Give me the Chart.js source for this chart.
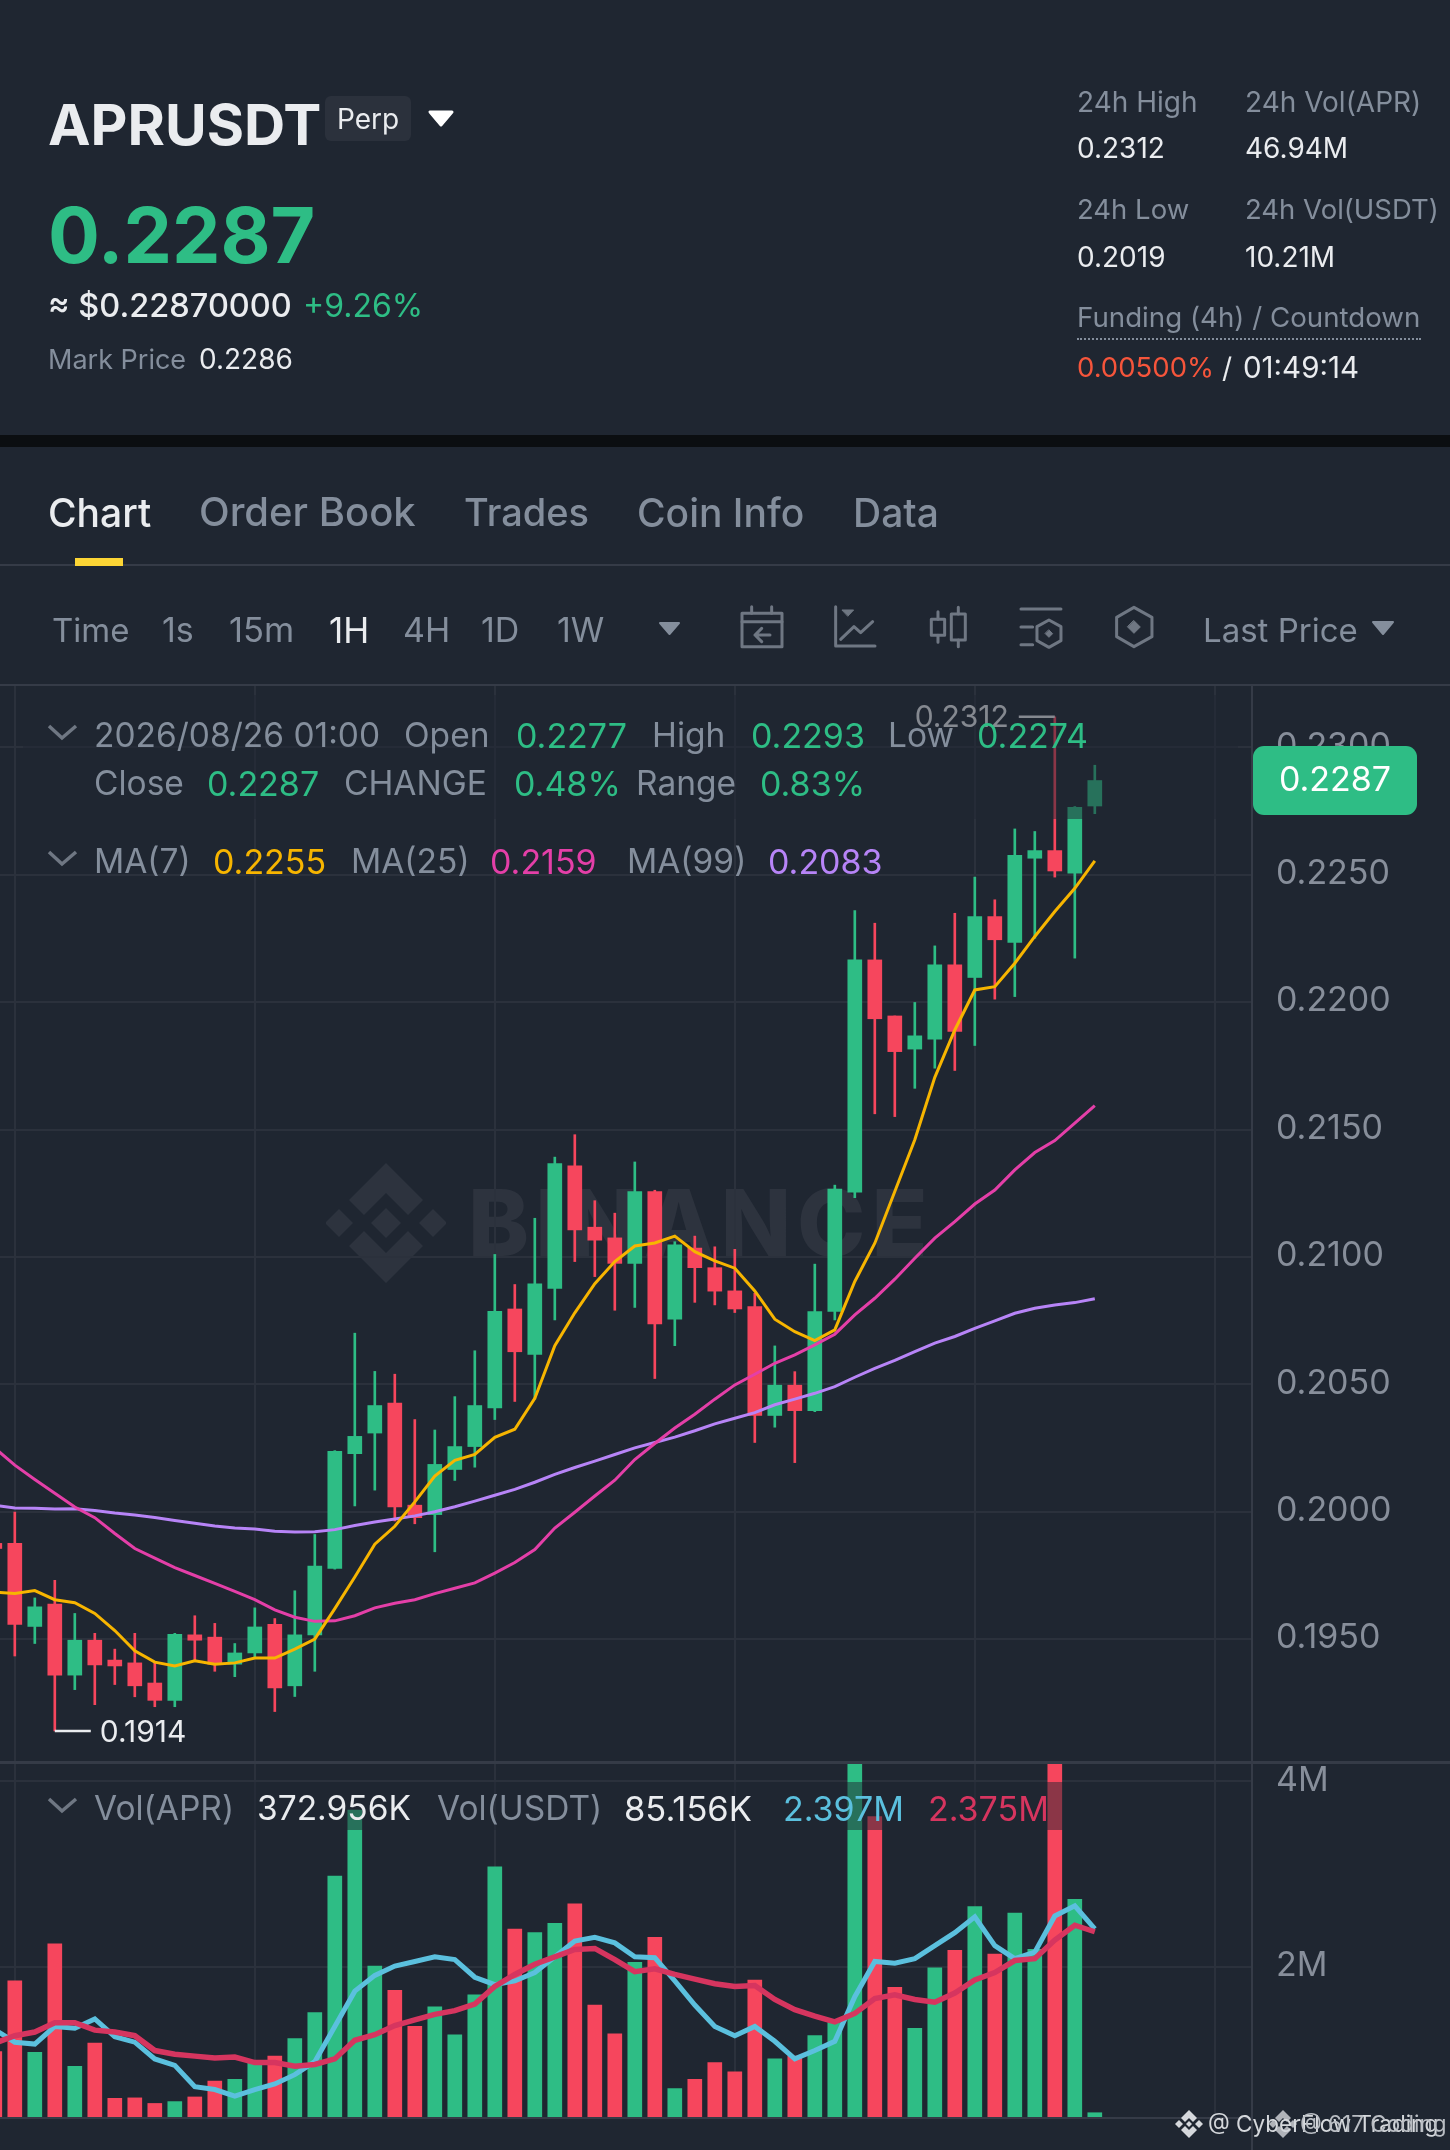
<!DOCTYPE html>
<html>
<head>
<meta charset="utf-8">
<title>APRUSDT</title>
<script src="https://cdn.jsdelivr.net/npm/chart.js@4"></script>
<style>
  html, body { margin: 0; padding: 0; }
  body { width: 1450px; height: 2150px; position: relative; overflow: hidden; background: #1f2631; font-family: Inter, sans-serif; }
  canvas { position: absolute; left: 0; }
  .t { position: absolute; white-space: nowrap; transform: translateY(-50%); line-height: 1; }
  .box { position: absolute; }
  #chrome { position: absolute; left: 0; top: 0; }
</style>
</head>
<body>

<!-- header / toolbar boxes -->
<div class="box" style="left:0;top:435px;width:1450px;height:12px;background:#0b0e11"></div>
<div class="box" style="left:325px;top:96px;width:86px;height:45px;background:#2b313c;border-radius:6px"></div>
<div class="box" style="left:0;top:564px;width:1450px;height:2px;background:#353b47"></div>
<div class="box" style="left:75px;top:558px;width:48px;height:8px;background:#fcd535"></div>
<div class="box" style="left:1077px;top:338px;width:344px;border-top:2px dotted #848e9c"></div>

<!-- watermark sits behind the charts -->
<svg class="box" style="left:326px;top:1163px" width="120" height="120" viewBox="-60 -60 120 120" fill="#2d333e">
  <polygon points="0,-60 37,-23 22,-8 0,-30 -22,-8 -37,-23"/>
  <polygon points="0,60 37,23 22,8 0,30 -22,8 -37,23"/>
  <polygon points="-47,-14 -33,0 -47,14 -61,0"/>
  <polygon points="47,-14 61,0 47,14 33,0"/>
  <polygon points="0,-15 15,0 0,15 -15,0"/>
</svg>
<div class="t" style="left:468px;top:1223px;font-size:92px;font-weight:800;letter-spacing:6px;color:#2d333e">BINANCE</div>

<canvas id="priceChart" width="1450" height="1076" style="top:686px;width:1450px;height:1076px"></canvas>
<canvas id="volChart" width="1450" height="355" style="top:1762px;width:1450px;height:355px"></canvas>

<!-- pane borders -->
<div class="box" style="left:0;top:684px;width:1450px;height:2px;background:#353b47"></div>
<div class="box" style="left:0;top:1761px;width:1450px;height:3px;background:#353b47"></div>
<div class="box" style="left:0;top:2117px;width:1252px;height:2px;background:#353b47"></div>
<div class="box" style="left:1251px;top:686px;width:2px;height:1464px;background:#353b47"></div>

<!-- legend backdrops dim whatever is under them -->
<div class="box" style="left:23px;top:695px;width:1215px;height:124px;background:rgba(31,38,49,.5)"></div>
<div class="box" style="left:23px;top:1782px;width:1047px;height:48px;background:rgba(31,38,49,.5)"></div>

<svg id="chrome" width="1450" height="2150" viewBox="0 0 1450 2150">
  <g fill="#fff" stroke="#fff" stroke-width="3" stroke-linejoin="round"><polygon points="430,112 452,112 441,125"/></g>
  <g fill="#848e9c" stroke="#848e9c" stroke-width="2" stroke-linejoin="round">
    <polygon points="660,623 679,623 669.500,634"/>
    <polygon points="1373,622 1393,622 1383,634"/>
  </g>
  <g fill="none" stroke="#6f7783" stroke-width="3.500">
    <polyline points="49,726 62,738 76,726"/>
    <polyline points="49,852 62,864 76,852"/>
    <polyline points="49,1799 62,1811 76,1799"/>
  </g>
  <!-- toolbar icons -->
  <g transform="translate(730,590) scale(.3333)" fill="none" stroke="#6f7783" stroke-width="9" stroke-linejoin="round" stroke-linecap="round">
    <rect x="36" y="70" width="120" height="100"/>
    <path d="M36 95H156M65 50V70M125 50V70M120 135H75M95 115L75 135L95 155"/>
    <path d="M317 50V168H435M332 148L372 110L392 128L428 95"/>
    <polygon points="337,60 371,60 354,78" fill="#6f7783" stroke-width="3"/>
    <rect x="604" y="88" width="40" height="48"/>
    <rect x="664" y="72" width="42" height="78"/>
    <path d="M624 65V88M624 136V157M685 52V72M685 150V170"/>
    <path d="M873 57H993M873 111H908M873 164H908"/>
    <polygon points="957,90 993,110 993,152 957,172 921,152 921,110"/>
    <polygon points="957,120 968,131 957,142 946,131" fill="#6f7783" stroke-width="3"/>
    <polygon points="1212,52 1266,82 1266,140 1212,170 1160,140 1160,82"/>
    <polygon points="1212,92 1231,111 1212,130 1193,111" fill="#6f7783" stroke-width="3"/>
  </g>
  <!-- footer marks -->
  <g fill="#d5d8dc">
    <polygon points="1189,2110 1197,2118 1193,2122 1189,2118 1185,2122 1181,2118"/>
    <polygon points="1189,2138 1197,2130 1193,2126 1189,2130 1185,2126 1181,2130"/>
    <polygon points="1175,2124 1179,2120 1183,2124 1179,2128"/>
    <polygon points="1203,2124 1199,2120 1195,2124 1199,2128"/>
    <polygon points="1189,2121 1192,2124 1189,2127 1186,2124"/>
  </g>
  <g fill="#d5d8dc" opacity=".8">
    <polygon points="1283,2110 1291,2118 1287,2122 1283,2118 1279,2122 1275,2118"/>
    <polygon points="1283,2138 1291,2130 1287,2126 1283,2130 1279,2126 1275,2130"/>
    <polygon points="1269,2124 1273,2120 1277,2124 1273,2128"/>
    <polygon points="1297,2124 1293,2120 1289,2124 1293,2128"/>
  </g>
</svg>

<script>
// Candles, oldest first. The first one is cut off by the left edge.
const firstCandle = -1;
const opens = [0.19876,0.19876,0.19550,0.19638,0.19359,0.19496,0.19418,0.19407,0.19328,0.19260,0.19517,0.19508,0.19402,0.19446,0.19558,0.19317,0.19517,0.19778,0.20228,0.20309,0.20427,0.20026,0.19989,0.20166,0.20256,0.20408,0.20796,0.20618,0.20877,0.21358,0.21117,0.21075,0.20975,0.21257,0.20756,0.21035,0.20958,0.20867,0.20805,0.20378,0.20497,0.20397,0.20786,0.21254,0.22166,0.21946,0.21816,0.21855,0.22147,0.22097,0.22336,0.22235,0.22565,0.22595,0.22506,0.2277];
const highs = [0.1990,0.19999,0.19662,0.19731,0.19601,0.19523,0.19461,0.19523,0.19407,0.19523,0.19592,0.19562,0.19483,0.19623,0.19581,0.19690,0.19911,0.20240,0.20701,0.20551,0.20540,0.20362,0.20321,0.20452,0.20632,0.21010,0.20892,0.21152,0.21392,0.2148,0.21221,0.21172,0.21373,0.21262,0.21060,0.21082,0.21040,0.21030,0.20858,0.20651,0.20550,0.20972,0.21282,0.22360,0.22310,0.21946,0.21999,0.22221,0.22349,0.22491,0.22402,0.22680,0.22670,0.2312,0.22768,0.2293];
const lows = [0.1984,0.19434,0.19483,0.1914,0.19302,0.19243,0.19322,0.19274,0.19235,0.19235,0.19418,0.19374,0.19353,0.19426,0.19216,0.19275,0.19374,0.19775,0.20023,0.20085,0.19964,0.19953,0.19843,0.20123,0.20175,0.20362,0.20433,0.20442,0.20753,0.20982,0.20923,0.20791,0.20802,0.20523,0.20652,0.20822,0.20812,0.20782,0.20272,0.20332,0.20193,0.20393,0.20753,0.21233,0.21562,0.21551,0.21662,0.21741,0.21732,0.21830,0.22012,0.22022,0.22251,0.22491,0.22173,0.2274];
const closes = [0.19856,0.19558,0.19627,0.19359,0.19496,0.19399,0.19395,0.19317,0.19260,0.19519,0.19496,0.19402,0.19446,0.19548,0.19309,0.19517,0.19787,0.20237,0.20296,0.20417,0.20019,0.19977,0.20186,0.20256,0.20417,0.20787,0.20628,0.20895,0.21367,0.21106,0.21066,0.20975,0.21257,0.20737,0.21048,0.20958,0.20866,0.20796,0.20378,0.20497,0.20397,0.20786,0.21267,0.22166,0.21935,0.21806,0.21868,0.22147,0.21885,0.22336,0.22245,0.22576,0.22595,0.22515,0.22765,0.2287];

const ma7 = [0.19685,0.19679,0.19691,0.19655,0.19643,0.19601,0.19534,0.19454,0.19410,0.19395,0.19415,0.19402,0.19407,0.19426,0.19426,0.19461,0.19500,0.19620,0.19744,0.19873,0.19943,0.20039,0.20140,0.20202,0.20225,0.20292,0.20324,0.20445,0.20652,0.20781,0.20895,0.20982,0.21043,0.21055,0.21082,0.21021,0.20985,0.20956,0.20867,0.20756,0.20707,0.20672,0.20714,0.20904,0.21054,0.21257,0.21460,0.21705,0.21891,0.22048,0.22061,0.22153,0.22258,0.22356,0.22447,0.22555];
const ma25 = [0.2025,0.20183,0.20127,0.20073,0.20019,0.19977,0.19915,0.19856,0.19818,0.19781,0.19750,0.19719,0.19688,0.19655,0.19615,0.19586,0.19570,0.19572,0.19592,0.19623,0.19641,0.19655,0.19679,0.19700,0.19721,0.19759,0.19801,0.19852,0.19936,0.19998,0.20062,0.20124,0.20205,0.20268,0.20329,0.20383,0.20442,0.20498,0.20540,0.20583,0.20616,0.20655,0.20697,0.20773,0.20838,0.20913,0.20995,0.21074,0.21139,0.21208,0.21263,0.21342,0.21410,0.21457,0.21525,0.21594];
const ma99 = [0.20026,0.20015,0.20014,0.20011,0.20012,0.20005,0.19995,0.19987,0.19978,0.19966,0.19955,0.19944,0.19936,0.19932,0.19924,0.19921,0.19922,0.19930,0.19946,0.19960,0.19972,0.19984,0.20000,0.20020,0.20042,0.20065,0.20088,0.20116,0.20147,0.20174,0.20199,0.20225,0.20251,0.20272,0.20293,0.20318,0.20345,0.20367,0.20389,0.20420,0.20442,0.20465,0.20491,0.20528,0.20563,0.20594,0.20629,0.20662,0.20688,0.20720,0.20749,0.20779,0.20799,0.20812,0.20821,0.20836];

// Volume, in millions
const volumes = [1.09,1.85,1.08,2.25,0.93,1.18,0.585,0.59,0.53,0.55,0.60,0.77,0.79,0.97,1.04,1.23,1.51,2.98,3.69,2.01,1.75,1.36,1.57,1.27,1.70,3.08,2.41,2.37,2.47,2.68,1.59,1.28,2.05,2.32,0.69,0.79,0.97,0.87,1.86,1.01,1.04,1.26,1.40,4.5,3.62,1.78,1.34,1.99,2.18,2.65,2.14,2.58,2.19,4.4,2.73,0.43];
const volMaShort = [1.325,1.19,1.17,1.36,1.34,1.44,1.25,1.19,1.01,0.94,0.71,0.68,0.61,0.68,0.74,0.84,0.98,1.36,1.74,1.91,2.01,2.06,2.11,2.08,1.89,1.81,1.85,1.94,2.11,2.28,2.32,2.26,2.11,2.10,1.85,1.59,1.36,1.26,1.36,1.20,1.01,1.10,1.20,1.68,2.06,2.04,2.09,2.23,2.37,2.54,2.23,2.09,2.16,2.55,2.66,2.41];
const volMaLong = [1.18,1.26,1.30,1.40,1.40,1.32,1.30,1.26,1.10,1.06,1.04,1.02,1.03,0.97,0.97,0.93,0.95,1.01,1.21,1.27,1.37,1.43,1.49,1.53,1.60,1.79,1.92,2.03,2.11,2.19,2.20,2.08,1.95,1.98,1.92,1.87,1.82,1.79,1.80,1.65,1.54,1.47,1.41,1.50,1.66,1.70,1.65,1.62,1.72,1.86,1.94,2.07,2.09,2.29,2.45,2.38];

const UP = '#2ebd85', DOWN = '#f6465d', GRID = '#2b313c', AXIS_TEXT = '#878e9a';
const xs = closes.map((_, i) => i + firstCandle);
const candleColor = c => closes[c.dataIndex] >= opens[c.dataIndex] ? UP : DOWN;
const points = arr => arr.map((v, i) => ({ x: xs[i], y: v }));

Chart.defaults.font.family = 'Inter';
Chart.defaults.animation = false;

// x axis is shared: one unit is one candle, gridlines every 12 candles
const xAxis = {
  type: 'linear', min: -0.74, max: 61.86, offset: false,
  grid: { color: GRID, lineWidth: 2, drawTicks: false, offset: false },
  border: { display: false },
  ticks: { display: false, stepSize: 12, includeBounds: false }
};
const yAxisBase = {
  position: 'right',
  // fixed gutter, and no room reserved for the end labels so the panes fill their canvas
  afterFit: s => { s.width = 198; s.paddingTop = 0; s.paddingBottom = 0; },
  grid: { color: GRID, lineWidth: 2, drawTicks: false },
  border: { display: false }
};
const lineDs = (data, color, width, order) => ({
  type: 'line', data: points(data), borderColor: color, borderWidth: width,
  pointRadius: 0, tension: 0, order
});
const baseOptions = {
  responsive: false, devicePixelRatio: 1,
  layout: { padding: 0 },
  plugins: { legend: { display: false }, tooltip: { enabled: false } }
};

// Extreme markers and the last price tag
const markers = {
  id: 'markers',
  afterDatasetsDraw(chart) {
    const { ctx, scales: { x, y } } = chart;
    const hi = Math.max(...highs), lo = Math.min(...lows);
    const hiX = x.getPixelForValue(xs[highs.indexOf(hi)]), loX = x.getPixelForValue(xs[lows.indexOf(lo)]);
    ctx.save();
    ctx.font = '400 30px Inter';
    ctx.fillStyle = ctx.strokeStyle = '#eaecef';
    ctx.lineWidth = 2.5;
    ctx.textBaseline = 'middle';

    ctx.beginPath();
    ctx.moveTo(hiX, y.getPixelForValue(hi)); ctx.lineTo(hiX - 36, y.getPixelForValue(hi));
    ctx.moveTo(loX, y.getPixelForValue(lo)); ctx.lineTo(loX + 36, y.getPixelForValue(lo));
    ctx.stroke();
    ctx.textAlign = 'right';
    ctx.fillText(hi.toFixed(4), hiX - 46, y.getPixelForValue(hi) + 1);
    ctx.textAlign = 'left';
    ctx.fillText(lo.toFixed(4), loX + 45, y.getPixelForValue(lo) + 2);

    const last = closes[closes.length - 1], ly = y.getPixelForValue(last);
    ctx.fillStyle = UP;
    ctx.beginPath();
    ctx.roundRect(1253, ly - 34.5, 164, 69, 11);
    ctx.fill();
    ctx.fillStyle = '#fff';
    ctx.font = '400 34px Inter';
    ctx.textAlign = 'center';
    ctx.fillText(last.toFixed(4), 1335, ly);
    ctx.restore();
  }
};

new Chart(document.getElementById('priceChart'), {
  data: {
    datasets: [
      { type: 'bar', data: xs.map((v, i) => ({ x: v, y: [lows[i], highs[i]] })), grouped: false, barThickness: 2,
        backgroundColor: candleColor, borderWidth: 0, order: 5 },
      { type: 'bar', data: xs.map((v, i) => ({ x: v, y: [Math.min(opens[i], closes[i]), Math.max(opens[i], closes[i])] })), grouped: false, barThickness: 14,
        backgroundColor: candleColor, borderWidth: 0, order: 4 },
      lineDs(ma99, '#b784f7', 3, 3),
      lineDs(ma25, '#e43fa8', 3, 2),
      lineDs(ma7, '#f7b500', 3, 1)
    ]
  },
  options: {
    ...baseOptions,
    scales: {
      x: xAxis,
      y: { ...yAxisBase, min: 0.19018, max: 0.23241,
        ticks: { stepSize: 0.005, includeBounds: false, padding: 24, labelOffset: -1, color: AXIS_TEXT, font: { size: 34 }, callback: v => v.toFixed(4) } }
    }
  },
  plugins: [markers]
});

new Chart(document.getElementById('volChart'), {
  data: {
    datasets: [
      { type: 'bar', data: points(volumes), grouped: false, barThickness: 14, backgroundColor: candleColor, borderWidth: 0, order: 3 },
      lineDs(volMaShort, '#5bc0de', 5, 2),
      lineDs(volMaLong, '#d6355f', 5.5, 1)
    ]
  },
  options: {
    ...baseOptions,
    scales: {
      x: xAxis,
      y: { ...yAxisBase, min: 0.384, max: 4.209,
        ticks: { stepSize: 2, includeBounds: false, padding: 24, labelOffset: -1, color: AXIS_TEXT, font: { size: 34 }, callback: v => v + 'M' } }
    }
  }
});

// All the plain text around the charts: text, left, middle y, size, colour, weight
const WHITE = '#eaecef', GREY = '#848e9c', GREEN = UP;
const texts = [
  ['APRUSDT', 48, 124, 57, WHITE, 700],
  ['Perp', 337, 119, 28, WHITE, 400],
  ['0.2287', 48, 235, 77, GREEN, 700],
  ['≈ $0.22870000', 48, 306, 32.500, WHITE, 500],
  ['+9.26%', 303, 306, 32, GREEN, 400],
  ['Mark Price', 48, 359, 27, GREY, 400],
  ['0.2286', 199, 359, 28, WHITE, 400],
  ['24h High', 1077, 102, 28, GREY, 400],
  ['24h Vol(APR)', 1245, 102, 28, GREY, 400],
  ['0.2312', 1077, 148, 28, WHITE, 400],
  ['46.94M', 1245, 148, 28, WHITE, 400],
  ['24h Low', 1077, 210, 27.500, GREY, 400],
  ['24h Vol(USDT)', 1245, 210, 27.500, GREY, 400],
  ['0.2019', 1077, 257, 28, WHITE, 400],
  ['10.21M', 1245, 257, 28, WHITE, 400],
  ['Funding (4h) / Countdown', 1077, 318, 27.700, GREY, 400],
  ['0.00500%', 1077, 368, 27.500, '#f6553b', 400],
  ['/', 1222, 368, 28, WHITE, 400],
  ['01:49:14', 1243, 368, 29.500, WHITE, 400],
  ['Chart', 48, 512, 39, WHITE, 500],
  ['Order Book', 199, 512, 40, GREY, 500],
  ['Trades', 464, 512, 38, GREY, 500],
  ['Coin Info', 637, 512, 39, GREY, 500],
  ['Data', 853, 512, 39, GREY, 500],
  ['Time', 52, 630, 33, GREY, 400],
  ['1s', 162, 630, 34, GREY, 400],
  ['15m', 229, 630, 34.500, GREY, 400],
  ['1H', 329, 630, 35, WHITE, 400],
  ['4H', 403, 630, 34, GREY, 400],
  ['1D', 481, 630, 34, GREY, 400],
  ['1W', 557, 630, 34, GREY, 400],
  ['Last Price', 1203, 630, 33, GREY, 400],
  ['2026/08/26 01:00', 94, 736, 33.500, GREY, 400],
  ['Open', 404, 736, 33.500, GREY, 400],
  ['0.2277', 516, 736, 34, GREEN, 400],
  ['High', 652, 736, 33.500, GREY, 400],
  ['0.2293', 751, 736, 34, GREEN, 400],
  ['Low', 888, 736, 33.500, GREY, 400],
  ['0.2274', 977, 736, 34, GREEN, 400],
  ['Close', 94, 784, 33.500, GREY, 400],
  ['0.2287', 207, 784, 34, GREEN, 400],
  ['CHANGE', 344, 784, 33.500, GREY, 400],
  ['0.48%', 514, 784, 34, GREEN, 400],
  ['Range', 636, 784, 33.500, GREY, 400],
  ['0.83%', 760, 784, 34, GREEN, 400],
  ['MA(7)', 94, 862, 33.500, GREY, 400],
  ['0.2255', 213, 862, 34, '#f7b500', 400],
  ['MA(25)', 351, 862, 33.500, GREY, 400],
  ['0.2159', 490, 862, 34, '#e43fa8', 400],
  ['MA(99)', 627, 862, 33.500, GREY, 400],
  ['0.2083', 768, 862, 34, '#b784f7', 400],
  ['Vol(APR)', 94, 1809, 33.500, GREY, 400],
  ['372.956K', 257, 1809, 33.500, WHITE, 400],
  ['Vol(USDT)', 437, 1809, 33.500, GREY, 400],
  ['85.156K', 624, 1809, 34.500, WHITE, 400],
  ['2.397M', 783, 1809, 34, '#5bc0de', 400],
  ['2.375M', 928, 1809, 34, '#d6355f', 400],
  ['@ CyberFlow Trading', 1208, 2124, 22.500, '#d5d8dc', 400],
  ['@ 617 Coding', 1300, 2124, 22.500, '#b9bdc3', 400]
];
texts.forEach(([text, x, y, size, color, weight]) => {
  const el = document.createElement('div');
  el.className = 't';
  el.textContent = text;
  el.style.cssText = `left:${x}px;top:${y}px;font-size:${size}px;color:${color};font-weight:${weight}`;
  document.body.appendChild(el);
});
</script>
</body>
</html>
